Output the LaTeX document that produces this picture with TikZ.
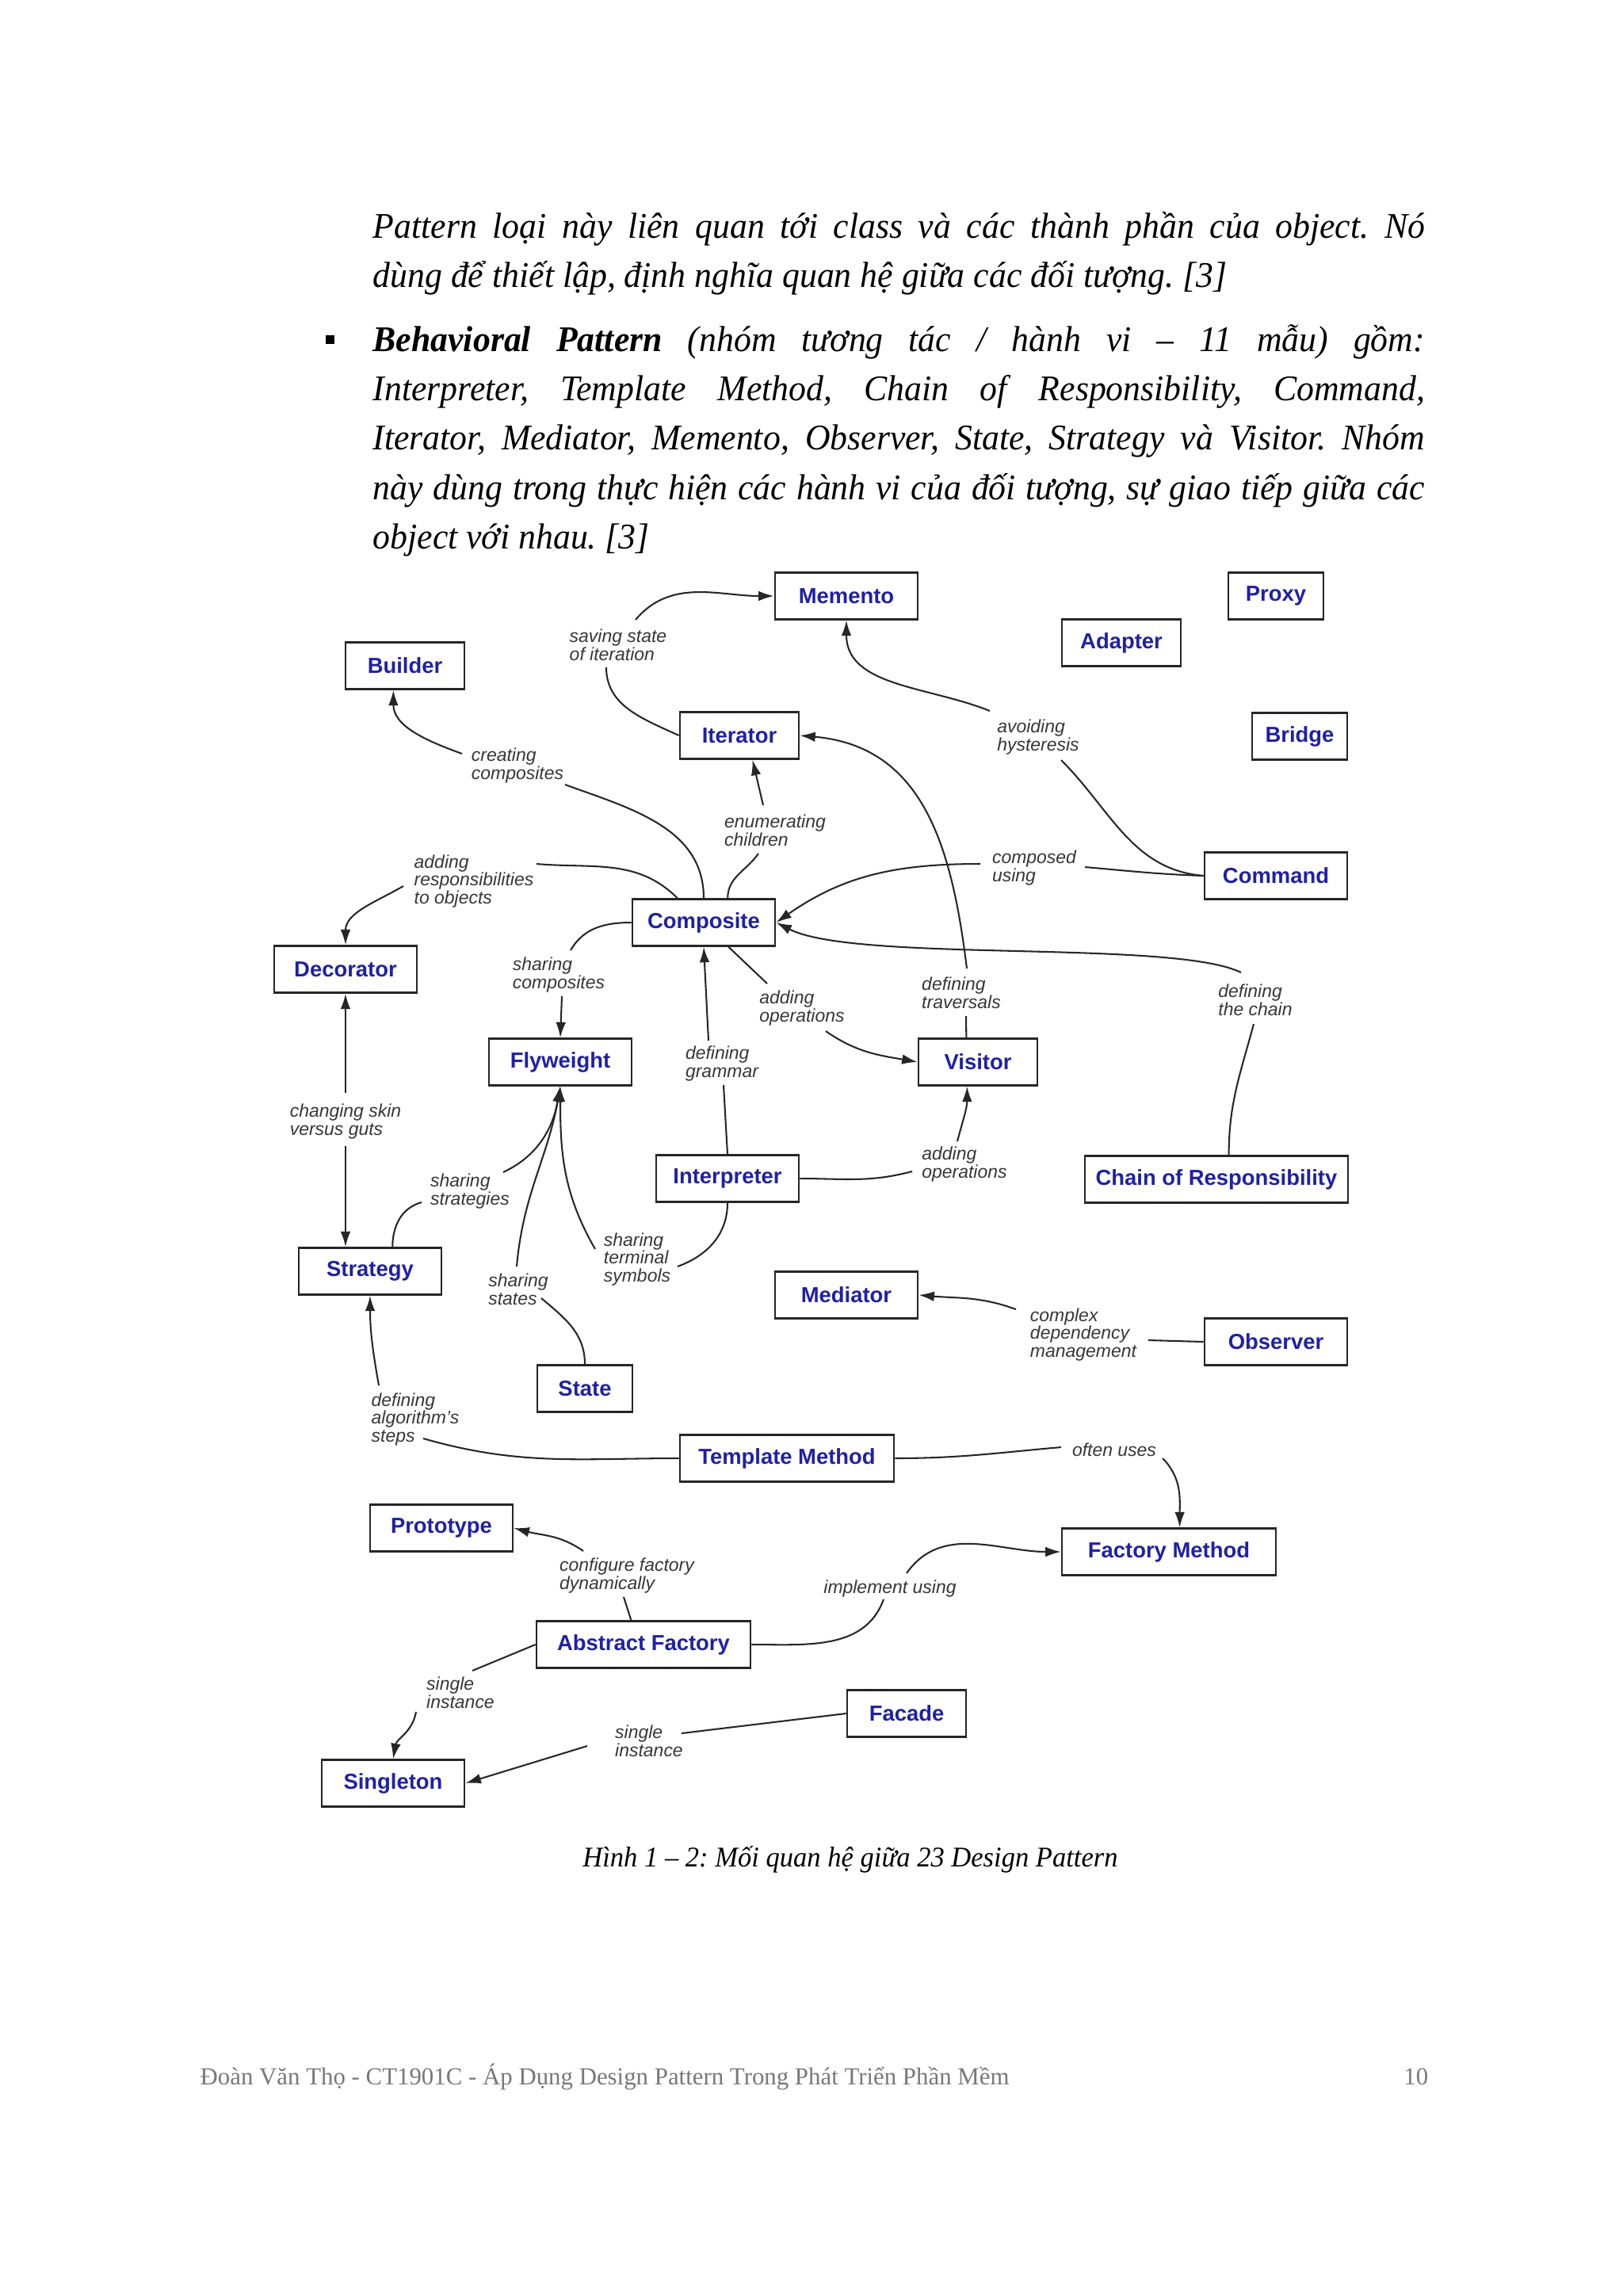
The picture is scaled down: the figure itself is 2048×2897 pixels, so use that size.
\documentclass[tikz,border=0pt]{standalone}
\usepackage{fontspec}
\setmainfont{Liberation Serif}
\setsansfont{Liberation Sans}
\newfontfamily\narrowserif[FakeStretch=0.96]{Liberation Serif}
\usetikzlibrary{arrows.meta}
\frenchspacing
\definecolor{patblue}{RGB}{32,32,165}
\definecolor{lblgray}{RGB}{55,55,55}
\definecolor{footgray}{RGB}{120,120,120}
\tikzset{
  pat/.style={draw=black!85, line width=0.7pt, fill=white, text=patblue,
    font=\sffamily\bfseries\fontsize{8}{9.6}\selectfont,
    minimum height=0.605cm, minimum width=#1, inner sep=2pt},
  pat/.default=1.85cm,
  lbl/.style={font=\sffamily\itshape\fontsize{6.7}{6.6}\selectfont,
    text=lblgray, align=left, inner sep=0pt},
  rel/.style={line width=0.6pt, draw=black!85},
  body/.style={font=\narrowserif\itshape\fontsize{13.3}{18.2}\selectfont, inner sep=0pt,
    text width=13.61cm, align=justify, anchor=base west},
  >={Latex[length=2mm,width=1.3mm]}
}
\begin{document}
\begin{tikzpicture}[x=0.010254cm, y=0.010254cm]
\useasboundingbox (0,0) rectangle (2048,-2897);
\fill[white] (0,0) rectangle (2048,-2897);

% text above the figure
\node[body] (para1) at (470,-300) {\frenchspacing Pattern loại này liên quan tới class và các thành phần của object. Nó\linebreak dùng để thiết lập, định nghĩa quan hệ giữa các đối tượng. [3]};
\fill (411,-423) rectangle (422,-434);
\node[body] (para2) at (470,-443) {\frenchspacing\textbf{Behavioral Pattern} (nhóm tương tác / hành vi – 11 mẫu) gồm:\linebreak Interpreter, Template Method, Chain of Responsibility, Command,\linebreak Iterator, Mediator, Memento, Observer, State, Strategy và Visitor. Nhóm\linebreak này dùng trong thực hiện các hành vi của đối tượng, sự giao tiếp giữa các\linebreak object với nhau. [3]};

% patterns
\node[pat] (memento) at (1068,-752) {Memento};
\node[pat=1.54cm] (builder) at (511,-840) {Builder};
\node[pat=1.54cm] (iterator) at (933,-928) {Iterator};
\node[pat] (composite) at (888,-1164) {Composite};
\node[pat] (decorator) at (436,-1223) {Decorator};
\node[pat=1.23cm] (proxy) at (1610,-752) {Proxy};
\node[pat=1.54cm] (adapter) at (1415,-811) {Adapter};
\node[pat=1.23cm] (bridge) at (1640,-929) {Bridge};
\node[pat] (command) at (1610,-1105) {Command};
\node[pat] (flyweight) at (707,-1340) {Flyweight};
\node[pat=1.54cm] (visitor) at (1234,-1340) {Visitor};
\node[pat] (interpreter) at (918,-1487) {Interpreter};
\node[pat=3.41cm] (chain) at (1535,-1488) {Chain of Responsibility};
\node[pat] (strategy) at (467,-1604) {Strategy};
\node[pat] (mediator) at (1068,-1634) {Mediator};
\node[pat] (observer) at (1610,-1693) {Observer};
\node[pat=1.23cm] (state) at (738,-1752) {State};
\node[pat=2.77cm] (template) at (993,-1840) {Template Method};
\node[pat] (prototype) at (557,-1928) {Prototype};
\node[pat=2.77cm] (factory) at (1475,-1958) {Factory Method};
\node[pat=2.77cm] (abstract) at (812,-2075) {Abstract Factory};
\node[pat=1.54cm] (facade) at (1144,-2162) {Facade};
\node[pat] (singleton) at (496,-2250) {Singleton};

% labels
\node[lbl] (lSave) at (780,-814) {saving state\\of iteration};
\node[lbl] (lCreate) at (653,-966) {creating\\composites};
\node[lbl] (lEnum) at (978,-1048) {enumerating\\children};
\node[lbl] (lResp) at (598,-1112) {adding\\responsibilities\\to objects};
\node[lbl] (lShareComp) at (705,-1230) {sharing\\composites};
\node[lbl] (lAddOp) at (1012,-1272) {adding\\operations};
\node[lbl] (lAvoid) at (1310,-930) {avoiding\\hysteresis};
\node[lbl] (lComposed) at (1305,-1095) {composed\\using};
\node[lbl] (lTrav) at (1213,-1253) {defining\\traversals};
\node[lbl] (lChain) at (1584,-1262) {defining\\the chain};
\node[lbl] (lGrammar) at (911,-1342) {defining\\grammar};
\node[lbl] (lSkin) at (436,-1415) {changing skin\\versus guts};
\node[lbl] (lShareStrat) at (593,-1503) {sharing\\strategies};
\node[lbl] (lTerminal) at (804,-1589) {sharing\\terminal\\symbols};
\node[lbl] (lStates) at (654,-1627) {sharing\\states};
\node[lbl] (lAlgo) at (524,-1791) {defining\\algorithm's\\steps};
\node[lbl] (lAddOpTwo) at (1217,-1469) {adding\\operations};
\node[lbl] (lComplex) at (1367,-1684) {complex\\dependency\\management};
\node[lbl] (lOften) at (1406,-1829) {often uses};
\node[lbl] (lConfig) at (791,-1988) {configure factory\\dynamically};
\node[lbl] (lImpl) at (1123,-2005) {implement using};
\node[lbl] (lSingleA) at (581,-2136) {single\\instance};
\node[lbl] (lSingleB) at (819,-2197) {single\\instance};

% ends of the connectors at the labels
\coordinate (sv1) at (765,-842);   \coordinate (sv2) at (802,-782);
\coordinate (cr1) at (713,-990);   \coordinate (cr2) at (583,-951);
\coordinate (en1) at (957,-1077);  \coordinate (en2) at (963,-1016);
\coordinate (ar1) at (677,-1090);  \coordinate (ar2) at (509,-1118);
\coordinate (sc1) at (720,-1199);  \coordinate (sc2) at (709,-1257);
\coordinate (dg1) at (913,-1369);  \coordinate (dg2) at (894,-1313);
\coordinate (ao1) at (968,-1241);  \coordinate (ao2) at (1042,-1301);
\coordinate (dt1) at (1219,-1282); \coordinate (dt2) at (1220,-1222);
\coordinate (cu1) at (1369,-1094); \coordinate (cu2) at (1237,-1090);
\coordinate (ah1) at (1339,-959);  \coordinate (ah2) at (1249,-897);
\coordinate (dc1) at (1582,-1292); \coordinate (dc2) at (1566,-1227);
\coordinate (ao3) at (1151,-1478); \coordinate (ao4) at (1208,-1440);
\coordinate (cs1) at (436,-1379);  \coordinate (cs2) at (436,-1446);
\coordinate (ss1) at (532,-1517);  \coordinate (ss2) at (635,-1479);
\coordinate (st1) at (683,-1638);  \coordinate (st2) at (652,-1598);
\coordinate (ts1) at (855,-1598);  \coordinate (ts2) at (751,-1576);
\coordinate (da1) at (534,-1815);  \coordinate (da2) at (478,-1748);
\coordinate (ou1) at (1339,-1826); \coordinate (ou2) at (1467,-1840);
\coordinate (cd1) at (1449,-1691); \coordinate (cd2) at (1282,-1652);
\coordinate (cf1) at (787,-2015);  \coordinate (cf2) at (736,-1957);
\coordinate (iu1) at (1115,-2018); \coordinate (iu2) at (1144,-1985);
\coordinate (si1) at (596,-2108);  \coordinate (si2) at (525,-2160);
\coordinate (si3) at (860,-2187);  \coordinate (si4) at (741,-2203);

% relations
\draw[rel] (iterator.west) to[out=155,in=-90] (sv1);
\draw[rel,->] (sv2) to[out=50,in=180] (memento.west);
\draw[rel] (composite.north) to[out=90,in=-20] (cr1);
\draw[rel,->] (cr2) to[out=160,in=-90] ([xshift=-0.15cm]builder.south);
\draw[rel] ([xshift=0.31cm]composite.north) to[out=90,in=-125] (en1);
\draw[rel,->] (en2) -- ([xshift=0.17cm]iterator.south);
\draw[rel] ([xshift=-0.34cm]composite.north) to[out=135,in=-5] (ar1);
\draw[rel,->] (ar2) to[out=210,in=90] (decorator.north);
\draw[rel] (composite.west) to[out=180,in=60] (sc1);
\draw[rel,->] (sc2) -- (flyweight.north);
\draw[rel] (interpreter.north) -- (dg1);
\draw[rel,->] (dg2) -- (composite.south);
\draw[rel] ([xshift=0.32cm]composite.south) -- (ao1);
\draw[rel,->] (ao2) to[out=-35,in=170] (visitor.west);
\draw[rel] ([xshift=-0.15cm]visitor.north) -- (dt1);
\draw[rel,->] (dt2) to[out=97,in=-5,looseness=1.1] (iterator.east);
\draw[rel] (command.west) to[out=178,in=-5] (cu1);
\draw[rel,->] (cu2) to[out=180,in=35] (composite.east);
\draw[rel] (command.west) to[out=175,in=-45] (ah1);
\draw[rel,->] (ah2) to[out=158,in=-90] (memento.south);
\draw[rel] ([xshift=0.16cm]chain.north) to[out=90,in=-105] (dc1);
\draw[rel,->] (dc2) .. controls (1480,-1185) and (1080,-1215) .. (composite.east);
\draw[rel] (interpreter.east) to[out=0,in=195] (ao3);
\draw[rel,->] (ao4) to[out=75,in=-90] ([xshift=-0.14cm]visitor.south);
\draw[rel,->] (cs1) -- (decorator.south);
\draw[rel,->] (cs2) -- (decorator.south |- strategy.north);
\draw[rel] ([xshift=0.29cm]strategy.north) to[out=90,in=195] (ss1);
\draw[rel,->] (ss2) to[out=25,in=-100] (flyweight.south);
\draw[rel] (state.north) to[out=90,in=-40] (st1);
\draw[rel,->] (st2) to[out=85,in=-100] (flyweight.south);
\draw[rel] (interpreter.south) to[out=-90,in=20] (ts1);
\draw[rel,->] (ts2) to[out=120,in=-90] (flyweight.south);
\draw[rel] (template.west) to[out=180,in=-16] (da1);
\draw[rel,->] (da2) to[out=100,in=-90] (strategy.south);
\draw[rel] (template.east) to[out=0,in=185] (ou1);
\draw[rel,->] (ou2) to[out=-45,in=90] ([xshift=0.14cm]factory.north);
\draw[rel] (observer.west) -- (cd1);
\draw[rel,->] (cd2) to[out=160,in=-5] (mediator.east);
\draw[rel] ([xshift=-0.16cm]abstract.north) -- (cf1);
\draw[rel,->] (cf2) to[out=145,in=-15] (prototype.east);
\draw[rel] (abstract.east) to[out=0,in=-110] (iu1);
\draw[rel,->] (iu2) to[out=55,in=180] (factory.west);
\draw[rel] (abstract.west) -- (si1);
\draw[rel,->] (si2) to[out=-100,in=80] (singleton.north);
\draw[rel] (facade.west) -- (si3);
\draw[rel,->] (si4) -- (singleton.east);

% caption and footer
\node[anchor=base, inner sep=0pt, font=\narrowserif\itshape\fontsize{10.5}{12.5}\selectfont] (caption) at (1073,-2355) {Hình 1 – 2: Mối quan hệ giữa 23 Design Pattern};
\node[anchor=base west, inner sep=0pt, text=footgray, font=\fontsize{9}{11}\selectfont] (footer) at (252,-2630) {Đoàn Văn Thọ - CT1901C - Áp Dụng Design Pattern Trong Phát Triển Phần Mềm};
\node[anchor=base east, inner sep=0pt, text=footgray, font=\fontsize{9}{11}\selectfont] (pageno) at (1803,-2630) {10};
\end{tikzpicture}
\end{document}
